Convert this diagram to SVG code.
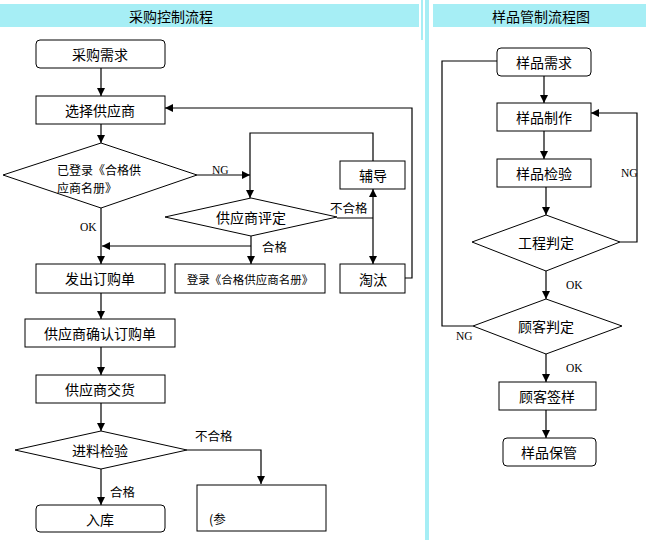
<svg xmlns="http://www.w3.org/2000/svg" width="646" height="540" viewBox="0 0 646 540">
<style>
.box{fill:#fff;stroke:#000;stroke-width:1}
.ln{fill:none;stroke:#000;stroke-width:1.2}
.t{font-family:"Noto Sans CJK SC","Noto Sans",sans-serif;font-size:14px;fill:#000;text-anchor:middle;dominant-baseline:central}
.s{font-family:"Noto Sans CJK SC","Noto Sans",sans-serif;font-size:12.5px;fill:#000;dominant-baseline:central}
.e{font-family:"Liberation Serif",serif;font-size:11.5px;fill:#000;dominant-baseline:central}
.hd{fill:#a6eef5}
</style>
<defs>
<marker id="ar" viewBox="0 0 10 10" refX="10" refY="5" markerWidth="8" markerHeight="10" markerUnits="userSpaceOnUse" orient="auto">
<path d="M0,0 L10,5 L0,10 z" fill="#000"/>
</marker>
</defs>
<rect width="646" height="540" fill="#fff"/>
<g id="headers">
<rect class="hd" x="0" y="4" width="419" height="23"/>
<rect class="hd" x="433" y="4" width="213" height="23"/>
<rect class="hd" x="421" y="0" width="2" height="40"/>
<rect class="hd" x="425" y="0" width="4" height="540"/>
<text class="t" x="171" y="16">采购控制流程</text>
<text class="t" x="541" y="16">样品管制流程图</text>
</g>
<g id="connectors">
<path class="ln" d="M101,68 V96" marker-end="url(#ar)"/>
<path class="ln" d="M101,124 V143" marker-end="url(#ar)"/>
<path class="ln" d="M197,175 H250" marker-end="url(#ar)"/>
<path class="ln" d="M373,161 V133 H250 V198" marker-end="url(#ar)"/>
<path class="ln" d="M337,218 H373"/>
<path class="ln" d="M373,218 V189" marker-end="url(#ar)"/>
<path class="ln" d="M373,218 V264" marker-end="url(#ar)"/>
<path class="ln" d="M405,278 H412 V108 H165" marker-end="url(#ar)"/>
<path class="ln" d="M251,236 V264" marker-end="url(#ar)"/>
<path class="ln" d="M251,246 H102" marker-end="url(#ar)"/>
<path class="ln" d="M101,208 V264" marker-end="url(#ar)"/>
<path class="ln" d="M101,293 V319" marker-end="url(#ar)"/>
<path class="ln" d="M101,347 V375" marker-end="url(#ar)"/>
<path class="ln" d="M101,403 V431" marker-end="url(#ar)"/>
<path class="ln" d="M187,450 H261 V484" marker-end="url(#ar)"/>
<path class="ln" d="M101,469 V505" marker-end="url(#ar)"/>
<path class="ln" d="M544,76 V103" marker-end="url(#ar)"/>
<path class="ln" d="M544,131 V159" marker-end="url(#ar)"/>
<path class="ln" d="M546,187 V215" marker-end="url(#ar)"/>
<path class="ln" d="M620,242 H637 V113 H591" marker-end="url(#ar)"/>
<path class="ln" d="M546,271 V299" marker-end="url(#ar)"/>
<path class="ln" d="M497,61 H442 V326 H473"/>
<path class="ln" d="M546,354 V382" marker-end="url(#ar)"/>
<path class="ln" d="M546,410 V438" marker-end="url(#ar)"/>
<text class="e" x="212" y="170">NG</text>
<text class="e" x="80" y="227">OK</text>
<text class="s" x="330" y="207">不合格</text>
<text class="s" x="262" y="246">合格</text>
<text class="s" x="195" y="435">不合格</text>
<text class="s" x="110" y="491">合格</text>
<text class="e" x="621" y="173">NG</text>
<text class="e" x="566" y="285">OK</text>
<text class="e" x="456" y="336">NG</text>
<text class="e" x="566" y="368">OK</text>
</g>
<g id="n1"><rect class="box" x="36" y="40" width="129" height="28" rx="4"/><text class="t" x="100" y="54">采购需求</text></g>
<g id="n2"><rect class="box" x="36" y="96" width="129" height="28"/><text class="t" x="100" y="110">选择供应商</text></g>
<g id="n3"><polygon class="box" points="101,143 197,175 101,208 3,175"/><text class="s" x="57" y="169.5" style="font-size:12px">已登录《合格供</text><text class="s" x="57" y="187.5" style="font-size:12px">应商名册》</text></g>
<g id="n4"><polygon class="box" points="251,198 337,217 251,236 165,217"/><text class="t" x="251" y="217">供应商评定</text></g>
<g id="n5"><rect class="box" x="340" y="161" width="65" height="28"/><text class="t" x="373" y="175">辅导</text></g>
<g id="n6"><rect class="box" x="340" y="264" width="65" height="29"/><text class="t" x="373" y="279">淘汰</text></g>
<g id="n7"><rect class="box" x="175" y="264" width="150" height="29"/><text class="t" x="250" y="279" style="font-size:11.5px">登录《合格供应商名册》</text></g>
<g id="n8"><rect class="box" x="36" y="264" width="129" height="29"/><text class="t" x="100" y="278">发出订购单</text></g>
<g id="n9"><rect class="box" x="25" y="319" width="150" height="28"/><text class="t" x="100" y="333">供应商确认订购单</text></g>
<g id="n10"><rect class="box" x="36" y="375" width="129" height="28"/><text class="t" x="100" y="389">供应商交货</text></g>
<g id="n11"><polygon class="box" points="101,431 187,450 101,469 15,450"/><text class="t" x="100" y="450">进料检验</text></g>
<g id="n12"><rect class="box" x="36" y="505" width="129" height="27" rx="4"/><text class="t" x="100" y="519">入库</text></g>
<g id="n13"><rect class="box" x="197" y="485" width="129" height="46"/><text class="s" x="209" y="518">(参</text></g>
<g id="r1"><rect class="box" x="497" y="48" width="94" height="28" rx="4"/><text class="t" x="544" y="62">样品需求</text></g>
<g id="r2"><rect class="box" x="497" y="103" width="94" height="28"/><text class="t" x="544" y="117">样品制作</text></g>
<g id="r3"><rect class="box" x="497" y="159" width="94" height="28"/><text class="t" x="544" y="173">样品检验</text></g>
<g id="r4"><polygon class="box" points="546,215 620,242 546,271 472,242"/><text class="t" x="546" y="242">工程判定</text></g>
<g id="r5"><polygon class="box" points="546,299 622,326 546,354 473,326"/><text class="t" x="546" y="326">顾客判定</text></g>
<g id="r6"><rect class="box" x="499" y="382" width="97" height="28"/><text class="t" x="547" y="396">顾客签样</text></g>
<g id="r7"><rect class="box" x="503" y="438" width="93" height="28" rx="4"/><text class="t" x="549" y="452">样品保管</text></g>
</svg>
